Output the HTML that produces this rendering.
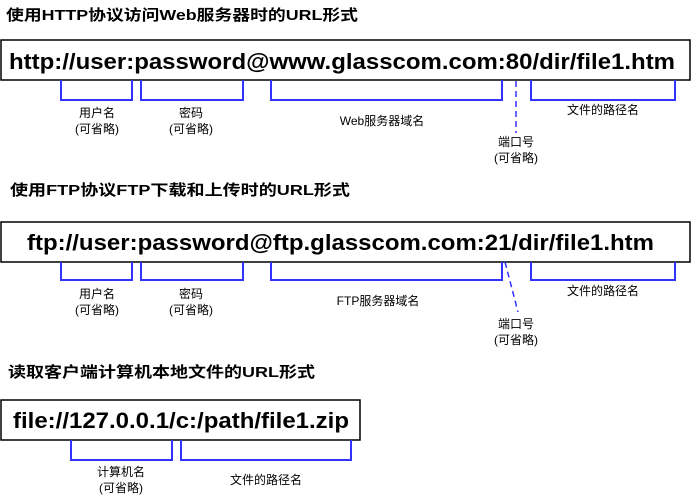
<!DOCTYPE html>
<html><head><meta charset="utf-8"><style>
html,body{margin:0;padding:0;background:#fff;}
svg{display:block;}
text{font-family:"Liberation Sans","Noto Sans CJK SC",sans-serif;fill:#000;}
.t{font-size:15px;font-weight:bold;}
.u{font-size:22px;font-weight:bold;}
.l{font-size:12px;text-anchor:middle;}
.b{fill:none;stroke:#3333ff;stroke-width:2;}
</style></head><body>
<svg width="692" height="502" viewBox="0 0 692 502">
<text class="t" x="6" y="20" textLength="352" lengthAdjust="spacingAndGlyphs">使用HTTP协议访问Web服务器时的URL形式</text>
<rect x="1" y="40" width="689" height="40" fill="#fff" stroke="#000" stroke-width="1.5"/>
<text class="u" x="9" y="69" textLength="666" lengthAdjust="spacingAndGlyphs">http://user:password@www.glasscom.com:80/dir/file1.htm</text>
<path class="b" d="M61 80V100H132V80 M141 80V100H243V80 M271 80V100H502V80 M531 80V100H675V80"/>
<path d="M516 81V133" stroke="#3333ff" stroke-width="1.5" stroke-dasharray="6,4"/>
<text class="l" x="97" y="117">用户名</text><text class="l" x="97" y="133">(可省略)</text>
<text class="l" x="191" y="117">密码</text><text class="l" x="191" y="133">(可省略)</text>
<text class="l" x="382" y="125">Web服务器域名</text>
<text class="l" x="516" y="146">端口号</text><text class="l" x="516" y="162">(可省略)</text>
<text class="l" x="603" y="114">文件的路径名</text>

<text class="t" x="10" y="195" textLength="340" lengthAdjust="spacingAndGlyphs">使用FTP协议FTP下载和上传时的URL形式</text>
<rect x="1" y="222" width="689" height="40" fill="#fff" stroke="#000" stroke-width="1.5"/>
<text class="u" x="27" y="250" textLength="627" lengthAdjust="spacingAndGlyphs">ftp://user:password@ftp.glasscom.com:21/dir/file1.htm</text>
<path class="b" d="M61 262V280H132V262 M141 262V280H243V262 M271 262V280H502V262 M531 262V280H675V262"/>
<path d="M505 262L518 312" stroke="#3333ff" stroke-width="1.5" stroke-dasharray="6,4"/>
<text class="l" x="97" y="298">用户名</text><text class="l" x="97" y="314">(可省略)</text>
<text class="l" x="191" y="298">密码</text><text class="l" x="191" y="314">(可省略)</text>
<text class="l" x="378" y="305">FTP服务器域名</text>
<text class="l" x="516" y="328">端口号</text><text class="l" x="516" y="344">(可省略)</text>
<text class="l" x="603" y="295">文件的路径名</text>

<text class="t" x="8" y="377" textLength="307" lengthAdjust="spacingAndGlyphs">读取客户端计算机本地文件的URL形式</text>
<rect x="1" y="400" width="359" height="40" fill="#fff" stroke="#000" stroke-width="1.5"/>
<text class="u" x="13" y="428" textLength="336" lengthAdjust="spacingAndGlyphs">file://127.0.0.1/c:/path/file1.zip</text>
<path class="b" d="M71 440V460H172V440 M181 440V460H351V440"/>
<text class="l" x="121" y="476">计算机名</text><text class="l" x="121" y="492">(可省略)</text>
<text class="l" x="266" y="484">文件的路径名</text>
</svg>
</body></html>
